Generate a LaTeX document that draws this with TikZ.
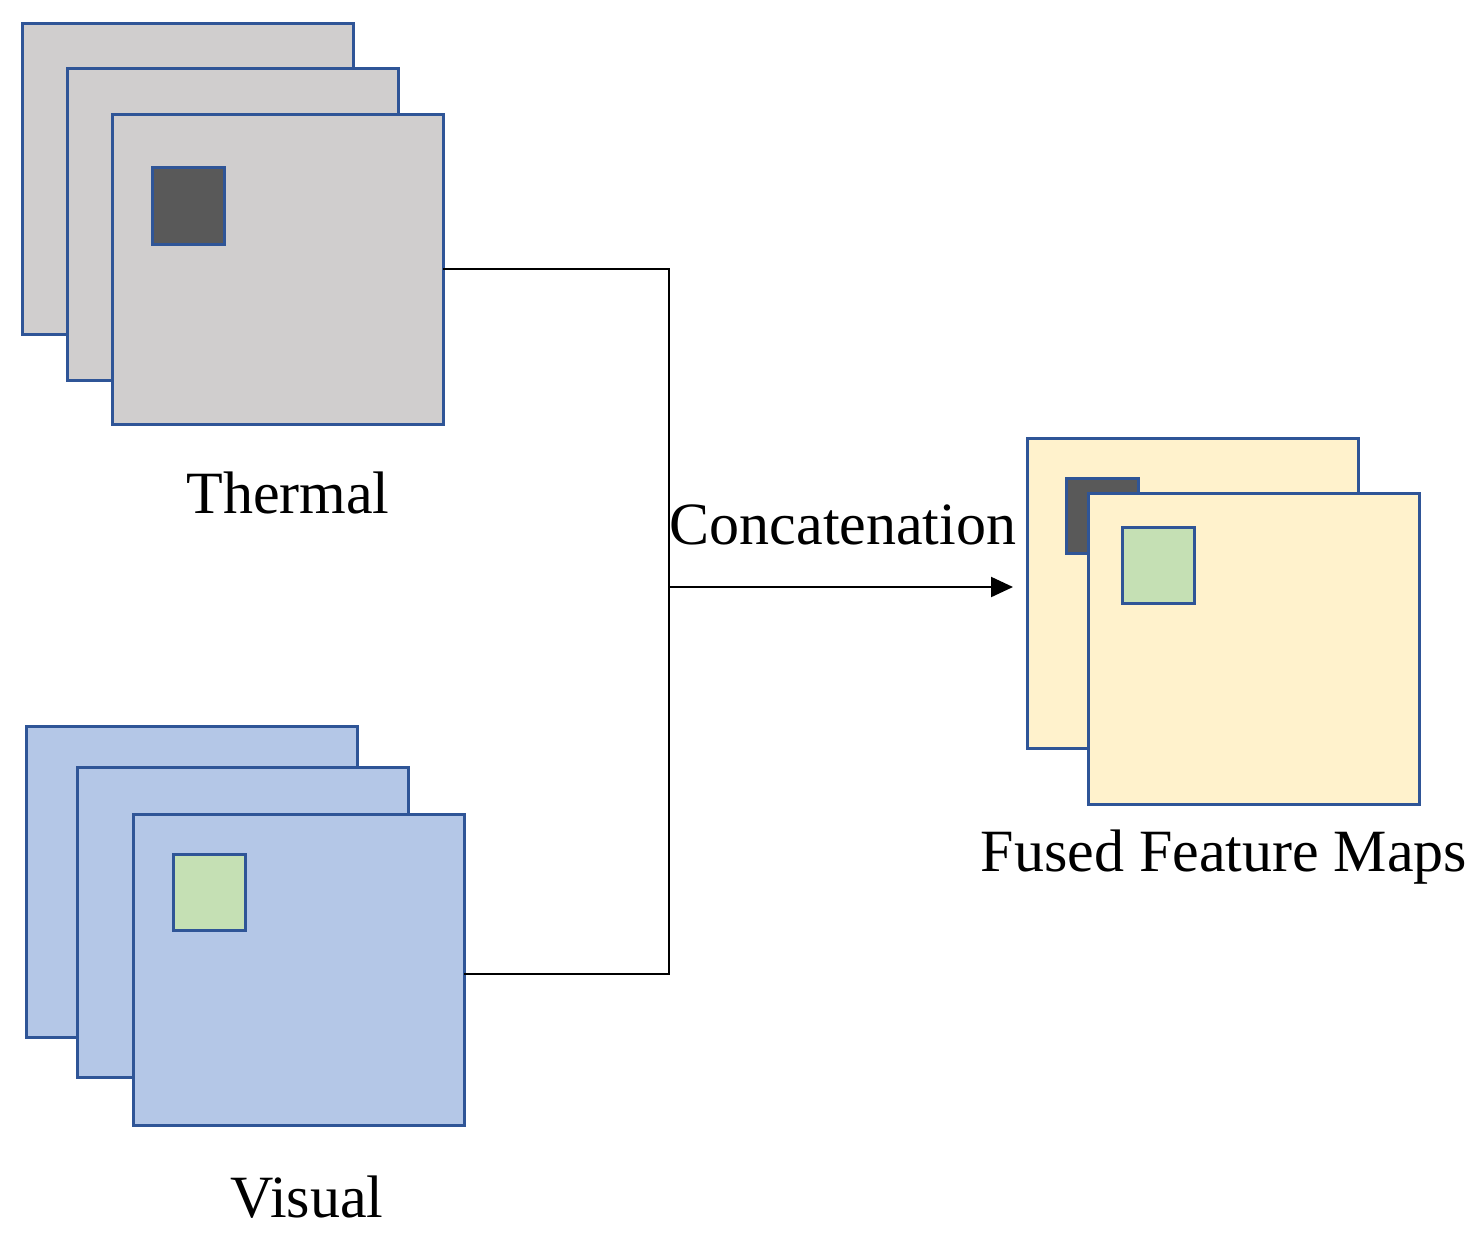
\documentclass[tikz,border=0pt]{standalone}
\usepackage{fontspec}
\setmainfont{Liberation Serif}
\usetikzlibrary{arrows.meta}
\definecolor{bstroke}{HTML}{2F5597}
\definecolor{gfill}{HTML}{D0CECE}
\definecolor{dfill}{HTML}{595959}
\definecolor{vfill}{HTML}{B4C7E7}
\definecolor{grn}{HTML}{C5E0B4}
\definecolor{yel}{HTML}{FFF2CC}
\begin{document}
\begin{tikzpicture}[x=1pt,y=-1pt,
  map/.style={draw=bstroke,line width=3pt},
  conn/.style={draw=black,line width=2.2pt},
  lbl/.style={font=\fontsize{60}{70}\selectfont,inner sep=0pt}]
\useasboundingbox (0,0) rectangle (1484,1251);
% thermal
\filldraw[map,fill=gfill] (22,23) rectangle (353,334);
\filldraw[map,fill=gfill] (67,68) rectangle (398,380);
\filldraw[map,fill=gfill] (112,114) rectangle (443,424);
\filldraw[map,fill=dfill] (152,167) rectangle (224,244);
\coordinate (tout) at (443,269);
% visual
\filldraw[map,fill=vfill] (26,726) rectangle (357,1037);
\filldraw[map,fill=vfill] (77,767) rectangle (408,1077);
\filldraw[map,fill=vfill] (133,814) rectangle (464,1125);
\filldraw[map,fill=grn] (173,854) rectangle (245,930);
\coordinate (vout) at (464,974);
% fused
\filldraw[map,fill=yel] (1027,438) rectangle (1358,748);
\filldraw[map,fill=dfill] (1066,478) rectangle (1138,553);
\filldraw[map,fill=yel] (1088,493) rectangle (1419,804);
\filldraw[map,fill=grn] (1122,527) rectangle (1194,603);
\coordinate (fin) at (1013,587);
\coordinate (mid) at (669,587);
% connectors
\draw[conn] (tout) -- (669,269) -- (669,974) -- (vout);
\draw[conn,-{Triangle[length=22pt,width=20pt]}] (mid) -- (fin);
% labels
\node[lbl] (lt) at (288,493) {Thermal};
\node[lbl] (lv) at (307,1197) {Visual};
\node[lbl] (lc) at (843,525) {Concatenation};
\node[lbl] (lf) at (1224,857) {Fused Feature Maps};
\end{tikzpicture}
\end{document}
